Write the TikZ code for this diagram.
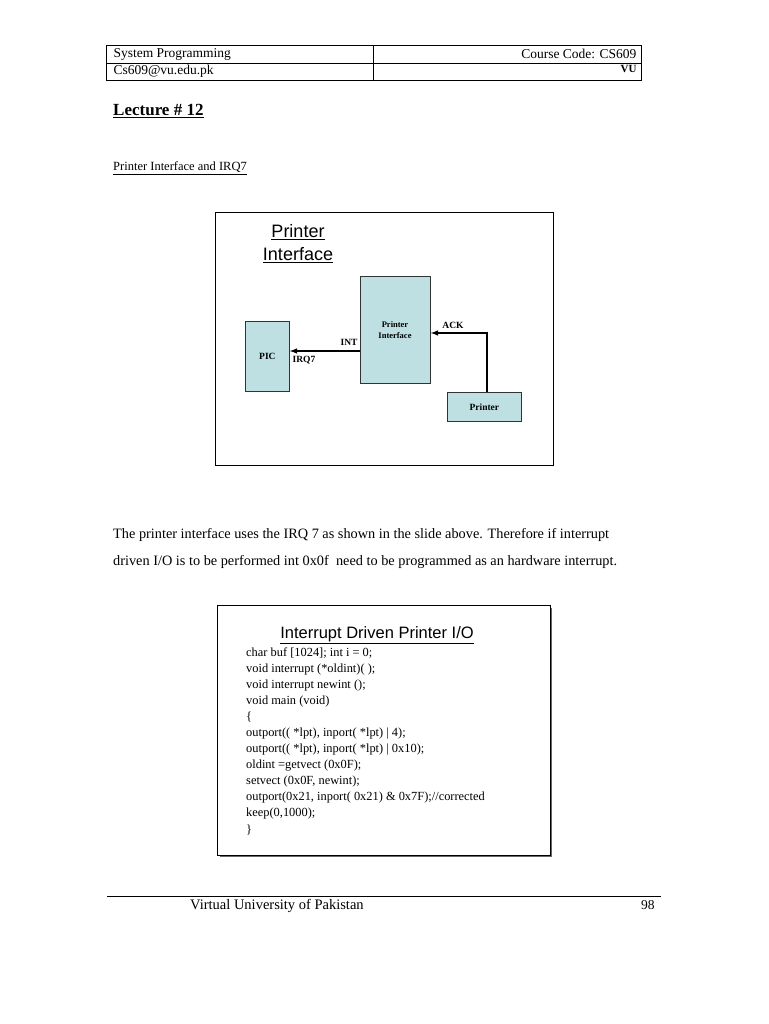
\documentclass[tikz,border=0pt]{standalone}
\usepackage{fontspec}
\setmainfont{Liberation Serif}
\setsansfont{Liberation Sans}
\definecolor{boxblue}{HTML}{BEE0E3}
\begin{document}
\begin{tikzpicture}[x=1pt,y=-1pt,
  blk/.style={draw=black!80,fill=boxblue,line width=0.8pt,anchor=north west},
  lbl/.style={font=\fontsize{9.5}{10}\selectfont\bfseries},
  code/.style={anchor=west,font=\fontsize{12.4}{13}\selectfont,inner sep=0pt}]
\useasboundingbox (0,0) rectangle (768,1024);
% header
\draw (106,45) rectangle (641,80) (106,63) -- (641,63) (373,45) -- (373,80);
\node[anchor=west,font=\fontsize{13.5}{14}\selectfont] (h1) at (110,54) {System Programming};
\node[anchor=east,font=\fontsize{13.5}{14}\selectfont] (h2) at (640,54) {Course Code: CS609};
\node[anchor=west,font=\fontsize{13.5}{14}\selectfont] (h3) at (110,71) {Cs609@vu.edu.pk};
\node[anchor=east,font=\fontsize{11}{12}\selectfont\bfseries] (h4) at (640,69) {VU};
\node[anchor=west,font=\fontsize{17}{18}\selectfont\bfseries,inner sep=1pt] (lec) at (112,111) {\underline{Lecture \# 12}};
\node[anchor=west,font=\fontsize{12.5}{13}\selectfont,inner sep=1pt] (sub) at (112,168) {\underline{Printer Interface and IRQ7}};
% diagram
\draw[line width=0.8pt] (215,212) rectangle (553,465);
\node[font=\sffamily\fontsize{18}{23}\selectfont,align=center] (ttl) at (298,244) {\underline{Printer}\\\underline{Interface}};
\node[blk,minimum width=44pt,minimum height=70pt] (pic) at (245,321) {};
\node[lbl] at (pic.center) {PIC};
\node[blk,minimum width=70pt,minimum height=107pt] (pi) at (360,276) {};
\node[lbl,align=center,font=\fontsize{8.5}{11}\selectfont\bfseries] at (395,330) {Printer\\Interface};
\node[blk,minimum width=74pt,minimum height=29pt] (pr) at (447,392) {};
\node[lbl] at (pr.center) {Printer};
\draw[-latex,line width=1.5pt] (pi.west |- 0,351) -- (pic.east |- 0,351);
\coordinate (bend) at (487,333);
\draw[-latex,line width=1.5pt] (pr.north -| bend) -- (bend) -- (pi.east |- bend);
\node[lbl] at (349,342) {INT};
\node[lbl] at (304,360) {IRQ7};
\node[lbl] at (453,325) {ACK};
% paragraph
\node[anchor=west,font=\fontsize{14.3}{15}\selectfont,inner sep=0pt] (p1) at (113,535) {The printer interface uses the IRQ 7 as shown in the slide above. Therefore if interrupt};
\node[anchor=west,font=\fontsize{14.3}{15}\selectfont,inner sep=0pt] (p2) at (113,562) {driven I/O is to be performed int 0x0f\ \ need to be programmed as an hardware interrupt.};
% code box
\fill[black!60] (220,608) rectangle (552,857);
\draw[fill=white,line width=0.8pt] (217,605) rectangle (550,855);
\node[font=\sffamily\fontsize{16.5}{18}\selectfont] (ct) at (377,635) {\underline{Interrupt Driven Printer I/O}};
\foreach \t [count=\i from 0] in {{char buf [1024]; int i = 0;},{void interrupt (*oldint)( );},{void interrupt newint ();},{void main (void)},{\{},{outport(( *lpt), inport( *lpt) | 4);},{outport(( *lpt), inport( *lpt) | 0x10);},{oldint =getvect (0x0F);},{setvect (0x0F, newint);},{outport(0x21, inport( 0x21) \& 0x7F);//corrected},{keep(0,1000);},{\}}}
  \node[code] at (246,653+16.1*\i) {\t};
% footer
\draw (107,896) -- (661,896);
\node[anchor=west,font=\fontsize{14.5}{15}\selectfont,inner sep=0pt] (f1) at (190,906) {Virtual University of Pakistan};
\node[anchor=west,font=\fontsize{13.5}{14}\selectfont,inner sep=0pt] (f2) at (641,905) {98};
\end{tikzpicture}
\end{document}
